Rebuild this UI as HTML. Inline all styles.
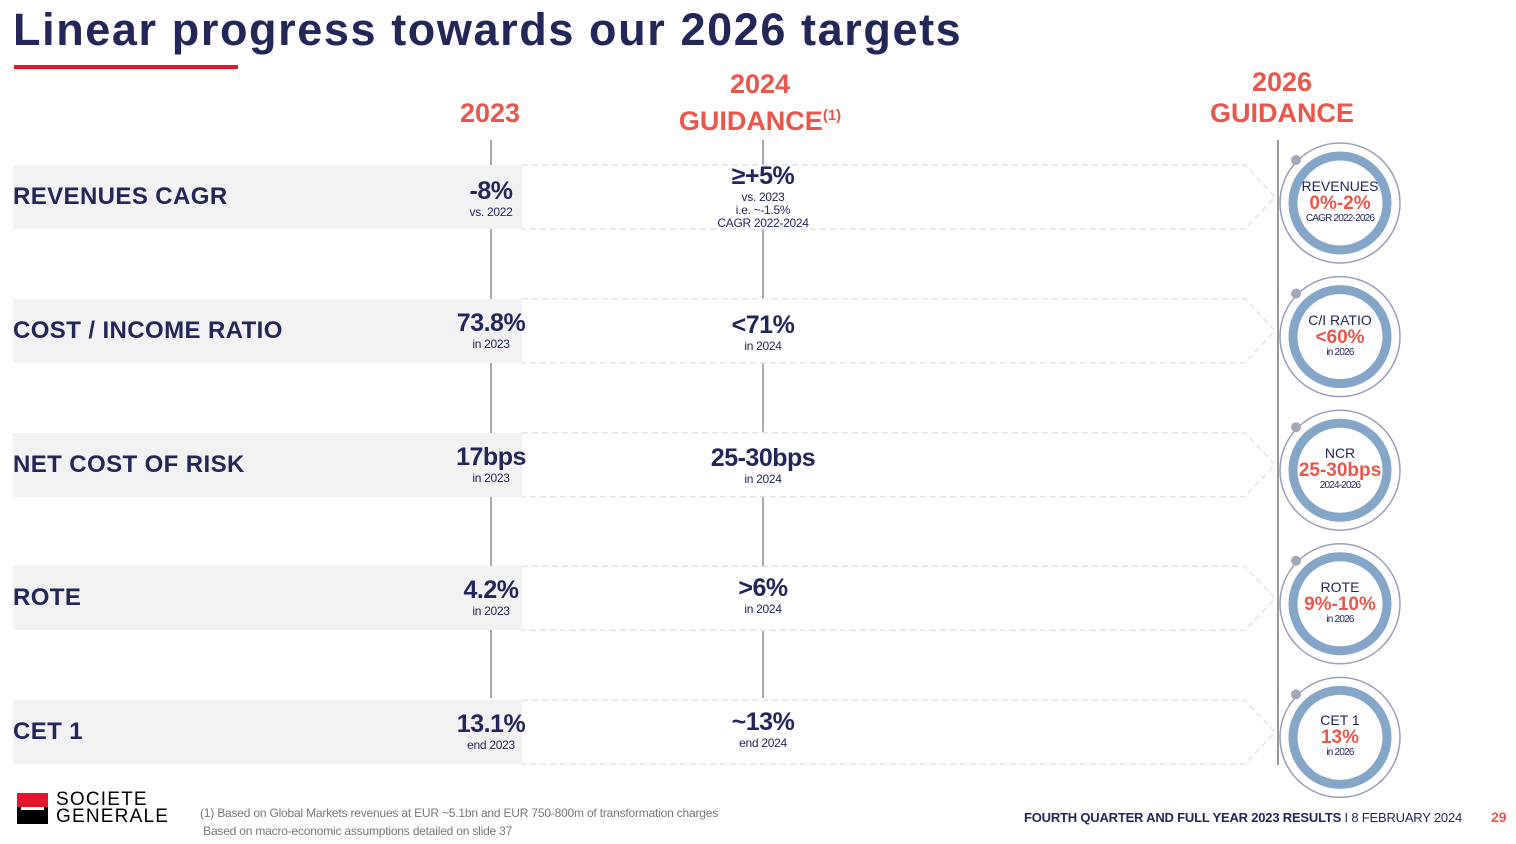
<!DOCTYPE html>
<html><head><meta charset="utf-8">
<style>
body{margin:0;width:1516px;height:844px;background:#fff;position:relative;overflow:hidden;font-family:"Liberation Sans",sans-serif;color:#222659}
.a{position:absolute}
.c{text-align:center}
.big{font-weight:bold;font-size:25px;letter-spacing:-0.5px}
.sm{font-size:12px;line-height:13px;letter-spacing:-0.3px}
.hd{color:#e8574a;font-weight:bold;font-size:27px;line-height:31px}
.lab{font-weight:bold;font-size:24px;letter-spacing:0.4px}
</style></head><body>
<div class="a" style="left:13px;top:4px;font-size:45px;letter-spacing:1.6px;font-weight:bold;color:#222659">Linear progress towards our 2026 targets</div>
<div class="a" style="left:14px;top:65px;width:224px;height:4px;background:#e3162c"></div>
<div class="a c hd" style="left:430px;top:98px;width:120px">2023</div>
<div class="a c hd" style="left:640px;top:69px;width:240px">2024<br>GUIDANCE<sup style="font-size:15px">(1)</sup></div>
<div class="a c hd" style="left:1180px;top:67px;width:204px">2026<br>GUIDANCE</div>
<svg class="a" style="left:0;top:0" width="1516" height="844">
<line x1="491" y1="140" x2="491" y2="698" stroke="#aaa" stroke-width="2"/>
<line x1="763" y1="140" x2="763" y2="698" stroke="#aaa" stroke-width="2"/>
<line x1="1278" y1="140" x2="1278" y2="765" stroke="#999" stroke-width="2"/>
<g id="shapes"></g>
</svg>
<div id="rows"></div>
<div class="a" style="left:17px;top:793px;width:31px;height:31px;background:#000"><div style="height:14px;background:#e3162c"></div><div style="margin:0 4px;height:3px;background:#fff"></div></div>
<div class="a" style="left:56px;top:791px;font-size:19px;line-height:17px;letter-spacing:1.2px;color:#000">SOCIETE<br>GENERALE</div>
<div class="a" style="left:200px;top:804px;font-size:12px;line-height:18px;color:#777;letter-spacing:-0.2px">(1) Based on Global Markets revenues at EUR ~5.1bn and EUR 750-800m of transformation charges<br>&nbsp;Based on macro-economic assumptions detailed on slide 37</div>
<div class="a" style="left:1024px;top:810px;font-size:13px;color:#222659;letter-spacing:-0.2px"><b>FOURTH QUARTER AND FULL YEAR 2023 RESULTS</b> I 8 FEBRUARY 2024</div>
<div class="a" style="left:1491px;top:809px;font-size:14px;font-weight:bold;color:#e8574a">29</div>
<script>
const labels=["REVENUES CAGR","COST / INCOME RATIO","NET COST OF RISK","ROTE","CET 1"];
const v23=["-8%","73.8%","17bps","4.2%","13.1%"];
const s23=["vs. 2022","in 2023","in 2023","in 2023","end 2023"];
const v24=["≥+5%","<71%","25-30bps",">6%","~13%"];
const s24=["vs. 2023<br>i.e. ~-1.5%<br>CAGR 2022-2024","in 2024","in 2024","in 2024","end 2024"];
const c1=["REVENUES","C/I RATIO","NCR","ROTE","CET 1"];
const c2=["0%-2%","<60%","25-30bps","9%-10%","13%"];
const c3=["CAGR 2022-2026","in 2026","2024-2026","in 2026","in 2026"];
const rows=document.getElementById('rows'),g=document.getElementById('shapes');
const esc=s=>s.replace(/</g,'&lt;').replace(/>/g,'&gt;').replace(/&lt;br&gt;/g,'<br>');
labels.forEach((l,i)=>{
 const top=165+i*133.8;
 let ns='http://www.w3.org/2000/svg';
 let p=document.createElementNS(ns,'path');
 p.setAttribute('d',`M522 ${top}H1245L1275 ${top+32}L1245 ${top+64}H522`);
 p.setAttribute('fill','#fff');p.setAttribute('stroke','#e4e4e4');p.setAttribute('stroke-dasharray','6 4');p.setAttribute('stroke-width','1.5');
 
 
 g.appendChild(p);
 const ccy=203+i*133.6;
 let gr=document.createElementNS(ns,'g');
 
 
 gr.innerHTML=`<circle cx="1340" cy="${ccy}" r="60" fill="none" stroke="#9a9fb8" stroke-width="1.5"/><circle cx="1340" cy="${ccy}" r="47" fill="#fff" stroke="#84a6c8" stroke-width="9"/><circle cx="1296" cy="${ccy-43}" r="5" fill="#a4a7b8"/>`;
 g.appendChild(gr);
 let d=document.createElement('div');
 
 
 d.innerHTML=`<div class="a" style="left:13px;top:${top}px;width:509px;height:64px;background:#f2f2f2"></div>
 <div class="a lab" style="left:13px;top:${top+18}px">${esc(l)}</div>
 <div class="a c" style="left:411px;top:${top+(i==0?12:10)}px;width:160px"><div class="big">${esc(v23[i])}</div><div class="sm">${s23[i]}</div></div>
 <div class="a c" style="left:683px;top:${top+(i==0?-3:i==2?11:i==1?12:8)}px;width:160px"><div class="big">${esc(v24[i])}</div><div class="sm">${s24[i]}</div></div>
 <div class="a c" style="left:1280px;top:${ccy-25}px;width:120px"><div style="font-size:14px;line-height:16px">${c1[i]}</div><div style="font-size:19px;line-height:19px;font-weight:bold;color:#e8574a">${esc(c2[i])}</div><div style="font-size:10px;letter-spacing:-0.8px">${c3[i]}</div></div>`;
 rows.appendChild(d);
});
</script>
</body></html>
